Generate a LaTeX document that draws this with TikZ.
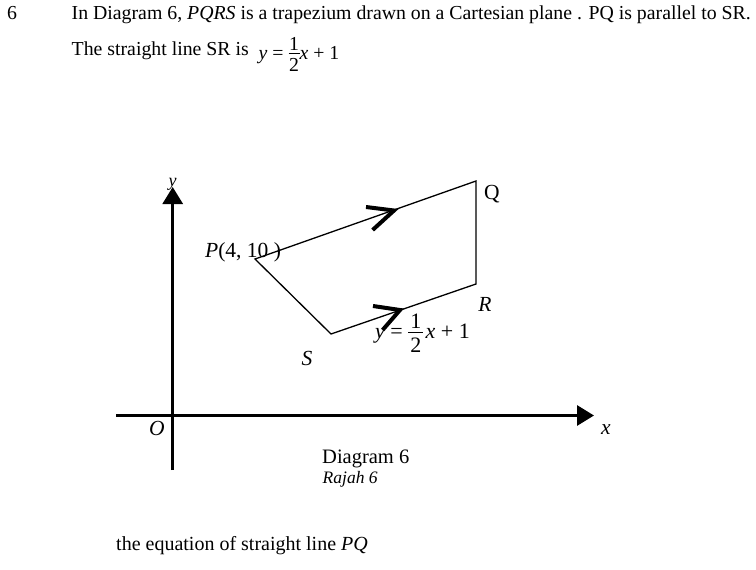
\documentclass[tikz,border=0pt]{standalone}
\usepackage{fontspec}
\setmainfont{Liberation Serif}
\usetikzlibrary{arrows.meta}
% #1 numerator, #2 denominator, #3 side kern, #4 gap above bar, #5 gap below bar
\newcommand{\myfrac}[5]{$\vcenter{\offinterlineskip\halign{\hfil\kern#3##\kern#3\hfil\cr #1\cr\noalign{\kern#4\hrule height 0.8pt\kern#5}#2\cr}}$}
\begin{document}
\begin{tikzpicture}[x=1pt,y=-1pt,
  txt/.style={inner sep=0pt, anchor=base west, font=\fontsize{19.8}{23}\selectfont},
  lab/.style={inner sep=0pt, anchor=base, font=\fontsize{21.5}{25}\selectfont},
  axisline/.style={line width=3pt, -{Triangle[length=17pt,width=20pt]}},
  edgeline/.style={line width=1.3pt, line join=miter},
  chev/.style={line width=4pt, line cap=butt, line join=miter}]
\useasboundingbox (0,0) rectangle (756,570);
% question text
\node[txt] (num) at (7,19.5) {6};
\node[txt] (l1) at (71.5,19.5) {In Diagram 6, \textit{PQRS} is a trapezium drawn on a Cartesian plane . PQ is parallel to SR.};
\node[txt] (l2) at (71.5,55) {The straight line SR is\ \ \raisebox{-4.5pt}{\textit{y} =\hspace{0.25em}\myfrac{1}{2}{0.6pt}{2.6pt}{4.5pt}\textit{x} + 1}};
% axes
\coordinate (ybot) at (172.7,470);
\coordinate (ytop) at (172.7,187);
\coordinate (xleft) at (116,415.5);
\coordinate (xright) at (594,415.5);
\draw[axisline] (ybot) -- (ytop);
\draw[axisline] (xleft) -- (xright);
% trapezium
\coordinate (P) at (255,259);
\coordinate (Q) at (476,181);
\coordinate (R) at (476,284);
\coordinate (S) at (331,334);
\draw[edgeline] (P) -- (Q) -- (R) -- (S) -- cycle;
% chevrons
\coordinate (c1) at (394,210.5);
\coordinate (c1a) at (366,207);
\coordinate (c1b) at (372.6,230);
\draw[chev] (c1a) -- (c1) -- (c1b);
\coordinate (c2) at (400,310);
\coordinate (c2a) at (373,306);
\coordinate (c2b) at (382.6,330);
\draw[chev] (c2a) -- (c2) -- (c2b);
% labels
\node[lab, anchor=base west] (pl) at (205,257) {\textit{P}(4, 10 )};
\node[lab] (ql) at (492,199) {Q};
\node[lab] (rl) at (485,311) {\textit{R}};
\node[lab] (sl) at (307,365) {\textit{S}};
\node[lab, anchor=base west, font=\fontsize{22}{26}\selectfont] (eq) at (375,338.5) {\textit{y} =\hspace{0.25em}\myfrac{1}{2}{2pt}{4pt}{5pt}\hspace{0.1em}\textit{x} + 1};
\node[lab] (ol) at (157,435.5) {\textit{O}};
\node[lab] (xl) at (606,434) {\textit{x}};
\node[inner sep=0pt, anchor=base, font=\fontsize{18}{20}\selectfont] (yl) at (172.5,186) {\textit{y}};
\node[lab, anchor=base west, font=\fontsize{20.5}{24}\selectfont] (cap) at (322,463) {Diagram 6};
\node[lab, anchor=base west, font=\fontsize{17.5}{20}\selectfont\itshape] (rj) at (322.5,483) {Rajah 6};
\node[txt, font=\fontsize{20}{24}\selectfont] (q) at (116,550) {the equation of straight line \textit{PQ}};
\end{tikzpicture}
\end{document}
